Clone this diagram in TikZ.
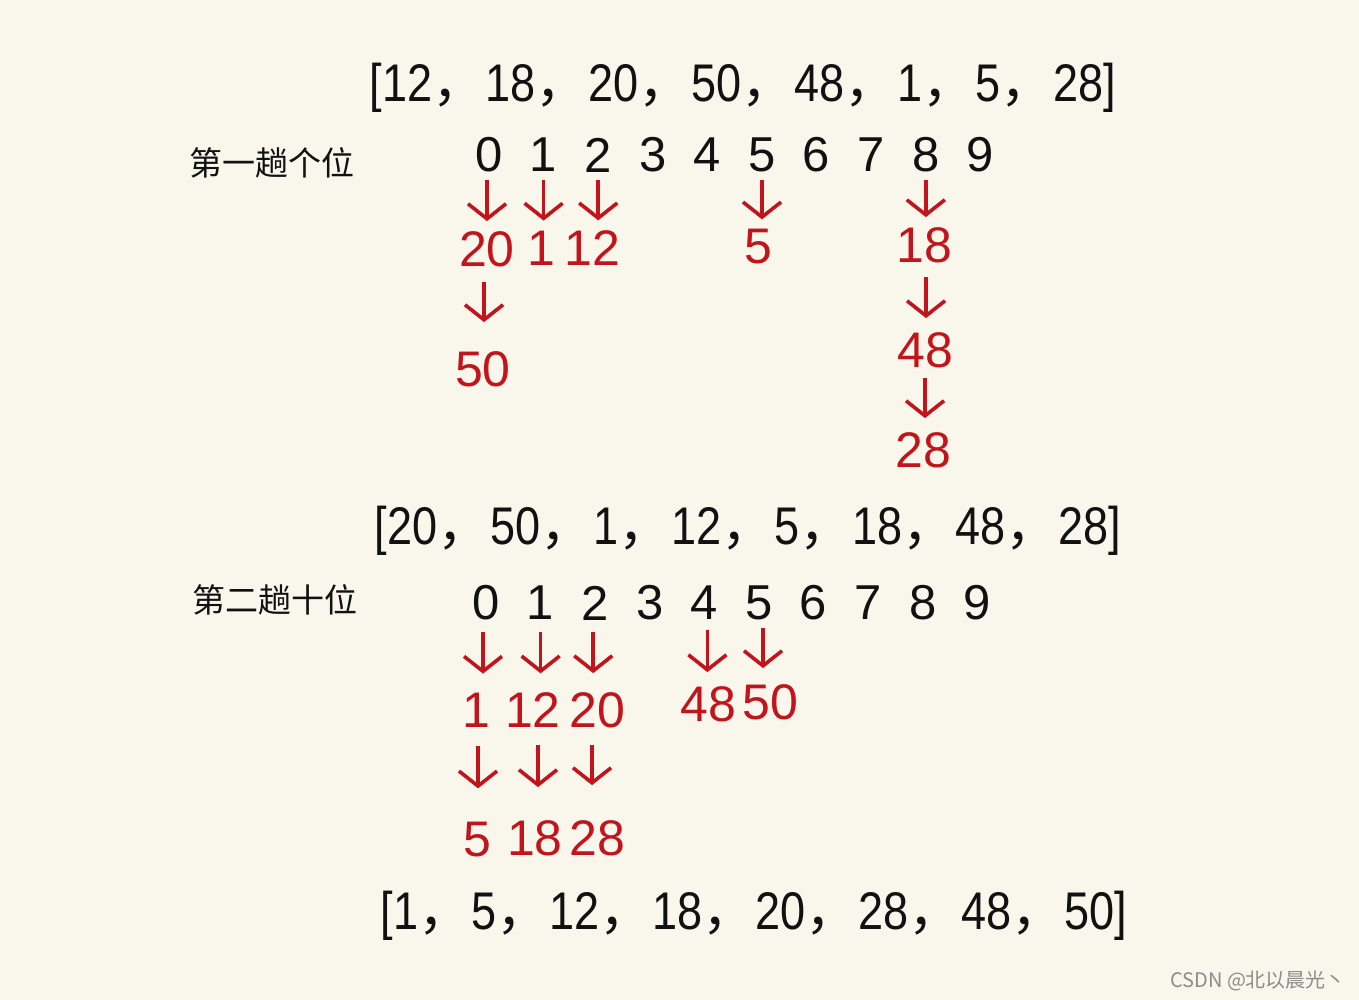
\documentclass[tikz,border=0pt]{standalone}
\usepackage{fontspec}
\setmainfont{Liberation Sans}
\newfontfamily\cond[FakeStretch=0.85]{Liberation Sans}
\newfontfamily\cjk{Noto Sans CJK SC}
\usetikzlibrary{arrows.meta}
\definecolor{bg}{RGB}{249,246,236}
\definecolor{rd}{RGB}{194,20,26}
\definecolor{ink}{RGB}{17,17,17}
\definecolor{wmgray}{RGB}{140,140,140}
\newcommand\fc{{\cjk ，}}
\begin{document}
\begin{tikzpicture}[x=1pt,y=-1pt,
  digit/.style={inner sep=0pt, font=\fontsize{49}{55}\selectfont, text=ink},
  num/.style={inner sep=0pt, font=\fontsize{50}{56}\selectfont, text=rd},
  lst/.style={inner sep=0pt, anchor=base, font=\cond\fontsize{53}{58}\selectfont, text=ink},
  lbl/.style={inner sep=0pt, font=\cjk\fontsize{33}{37}\selectfont, text=ink},
  arr/.style={draw=rd, line width=3.6pt, -{Straight Barb[length=15pt,width=38pt]}}]
\path[fill=bg] (0,0) rectangle (1359,1000);
\useasboundingbox (0,0) rectangle (1359,1000);

% lists
\node[lst] (L1) at (743,102) {[12\fc 18\fc 20\fc 50\fc 48\fc 1\fc 5\fc 28]};
\node[lst] (L2) at (748,544) {[20\fc 50\fc 1\fc 12\fc 5\fc 18\fc 48\fc 28]};
\node[lst] (L3) at (754,929) {[1\fc 5\fc 12\fc 18\fc 20\fc 28\fc 48\fc 50]};

% labels
\node[lbl] (T1) at (272,163) {第一趟个位};
\node[lbl] (T2) at (275,600) {第二趟十位};

% digit rows
\foreach \i in {0,...,9} {
  \node[digit] (a\i) at ({489+54.6*\i},155) {\i};
  \node[digit] (b\i) at ({486+54.6*\i},603) {\i};
}

% first pass buckets
\node[num] (p20) at (487,249) {20};
\node[num] (p1)  at (541,248) {1};
\node[num] (p12) at (592,248) {12};
\node[num] (p5)  at (758,247) {5};
\node[num] (p18) at (924,245) {18};
\node[num] (p50) at (483,369) {50};
\node[num] (p48) at (925,350) {48};
\node[num] (p28) at (923,450) {28};

\draw[arr, shorten <=7.5pt, shorten >=10pt] ([xshift=-2pt]a0.south) -- ([xshift=-2pt]a0.south |- p20.north);
\draw[arr, shorten <=7.5pt, shorten >=10pt] (a1.south) -- (a1.south |- p1.north);
\draw[arr, shorten <=7.5pt, shorten >=10pt] (a2.south) -- (a2.south |- p12.north);
\draw[arr, shorten <=7.5pt, shorten >=10pt] (a5.south) -- (a5.south |- p5.north);
\draw[arr, shorten <=7.5pt, shorten >=10pt] (a8.south) -- (a8.south |- p18.north);
\draw[arr, shorten <=15pt, shorten >=29pt] ([xshift=-3pt]p20.south) -- ([xshift=-3pt]p20.south |- p50.north);
\draw[arr, shorten <=14pt, shorten >=14pt] ([xshift=2pt]p18.south) -- ([xshift=2pt]p18.south |- p48.north);
\draw[arr, shorten <=10pt, shorten >=14pt] (p48.south) -- (p48.south |- p28.north);

% second pass buckets
\node[num] (q1)  at (476,710) {1};
\node[num] (q12) at (533,710) {12};
\node[num] (q20) at (597,710) {20};
\node[num] (q48) at (708,704) {48};
\node[num] (q50) at (770,702) {50};
\node[num] (q5)  at (477,840) {5};
\node[num] (q18) at (535,838) {18};
\node[num] (q28) at (597,838) {28};

\draw[arr, shorten <=11.5pt, shorten >=19pt] ([xshift=-3pt]b0.south) -- ([xshift=-3pt]b0.south |- q1.north);
\draw[arr, shorten <=11.5pt, shorten >=19pt] (b1.south) -- (b1.south |- q12.north);
\draw[arr, shorten <=11.5pt, shorten >=19pt] ([xshift=-2pt]b2.south) -- ([xshift=-2pt]b2.south |- q20.north);
\draw[arr, shorten <=9.5pt, shorten >=14pt] ([xshift=3pt]b4.south) -- ([xshift=3pt]b4.south |- q48.north);
\draw[arr, shorten <=7.5pt, shorten >=16pt] ([xshift=4pt]b5.south) -- ([xshift=4pt]b5.south |- q50.north);
\draw[arr, shorten <=19pt, shorten >=34pt] ([xshift=2pt]q1.south) -- ([xshift=2pt]q1.south |- q5.north);
\draw[arr, shorten <=17pt, shorten >=33pt] ([xshift=5pt]q12.south) -- ([xshift=5pt]q12.south |- q18.north);
\draw[arr, shorten <=17pt, shorten >=35pt] ([xshift=-5pt]q20.south) -- ([xshift=-5pt]q20.south |- q28.north);

% watermark
\node[inner sep=0pt, anchor=west, text=wmgray, font=\cjk\fontsize{20}{23}\selectfont] (wm) at (1170,981) {CSDN @北以晨光丶};
\end{tikzpicture}
\end{document}
